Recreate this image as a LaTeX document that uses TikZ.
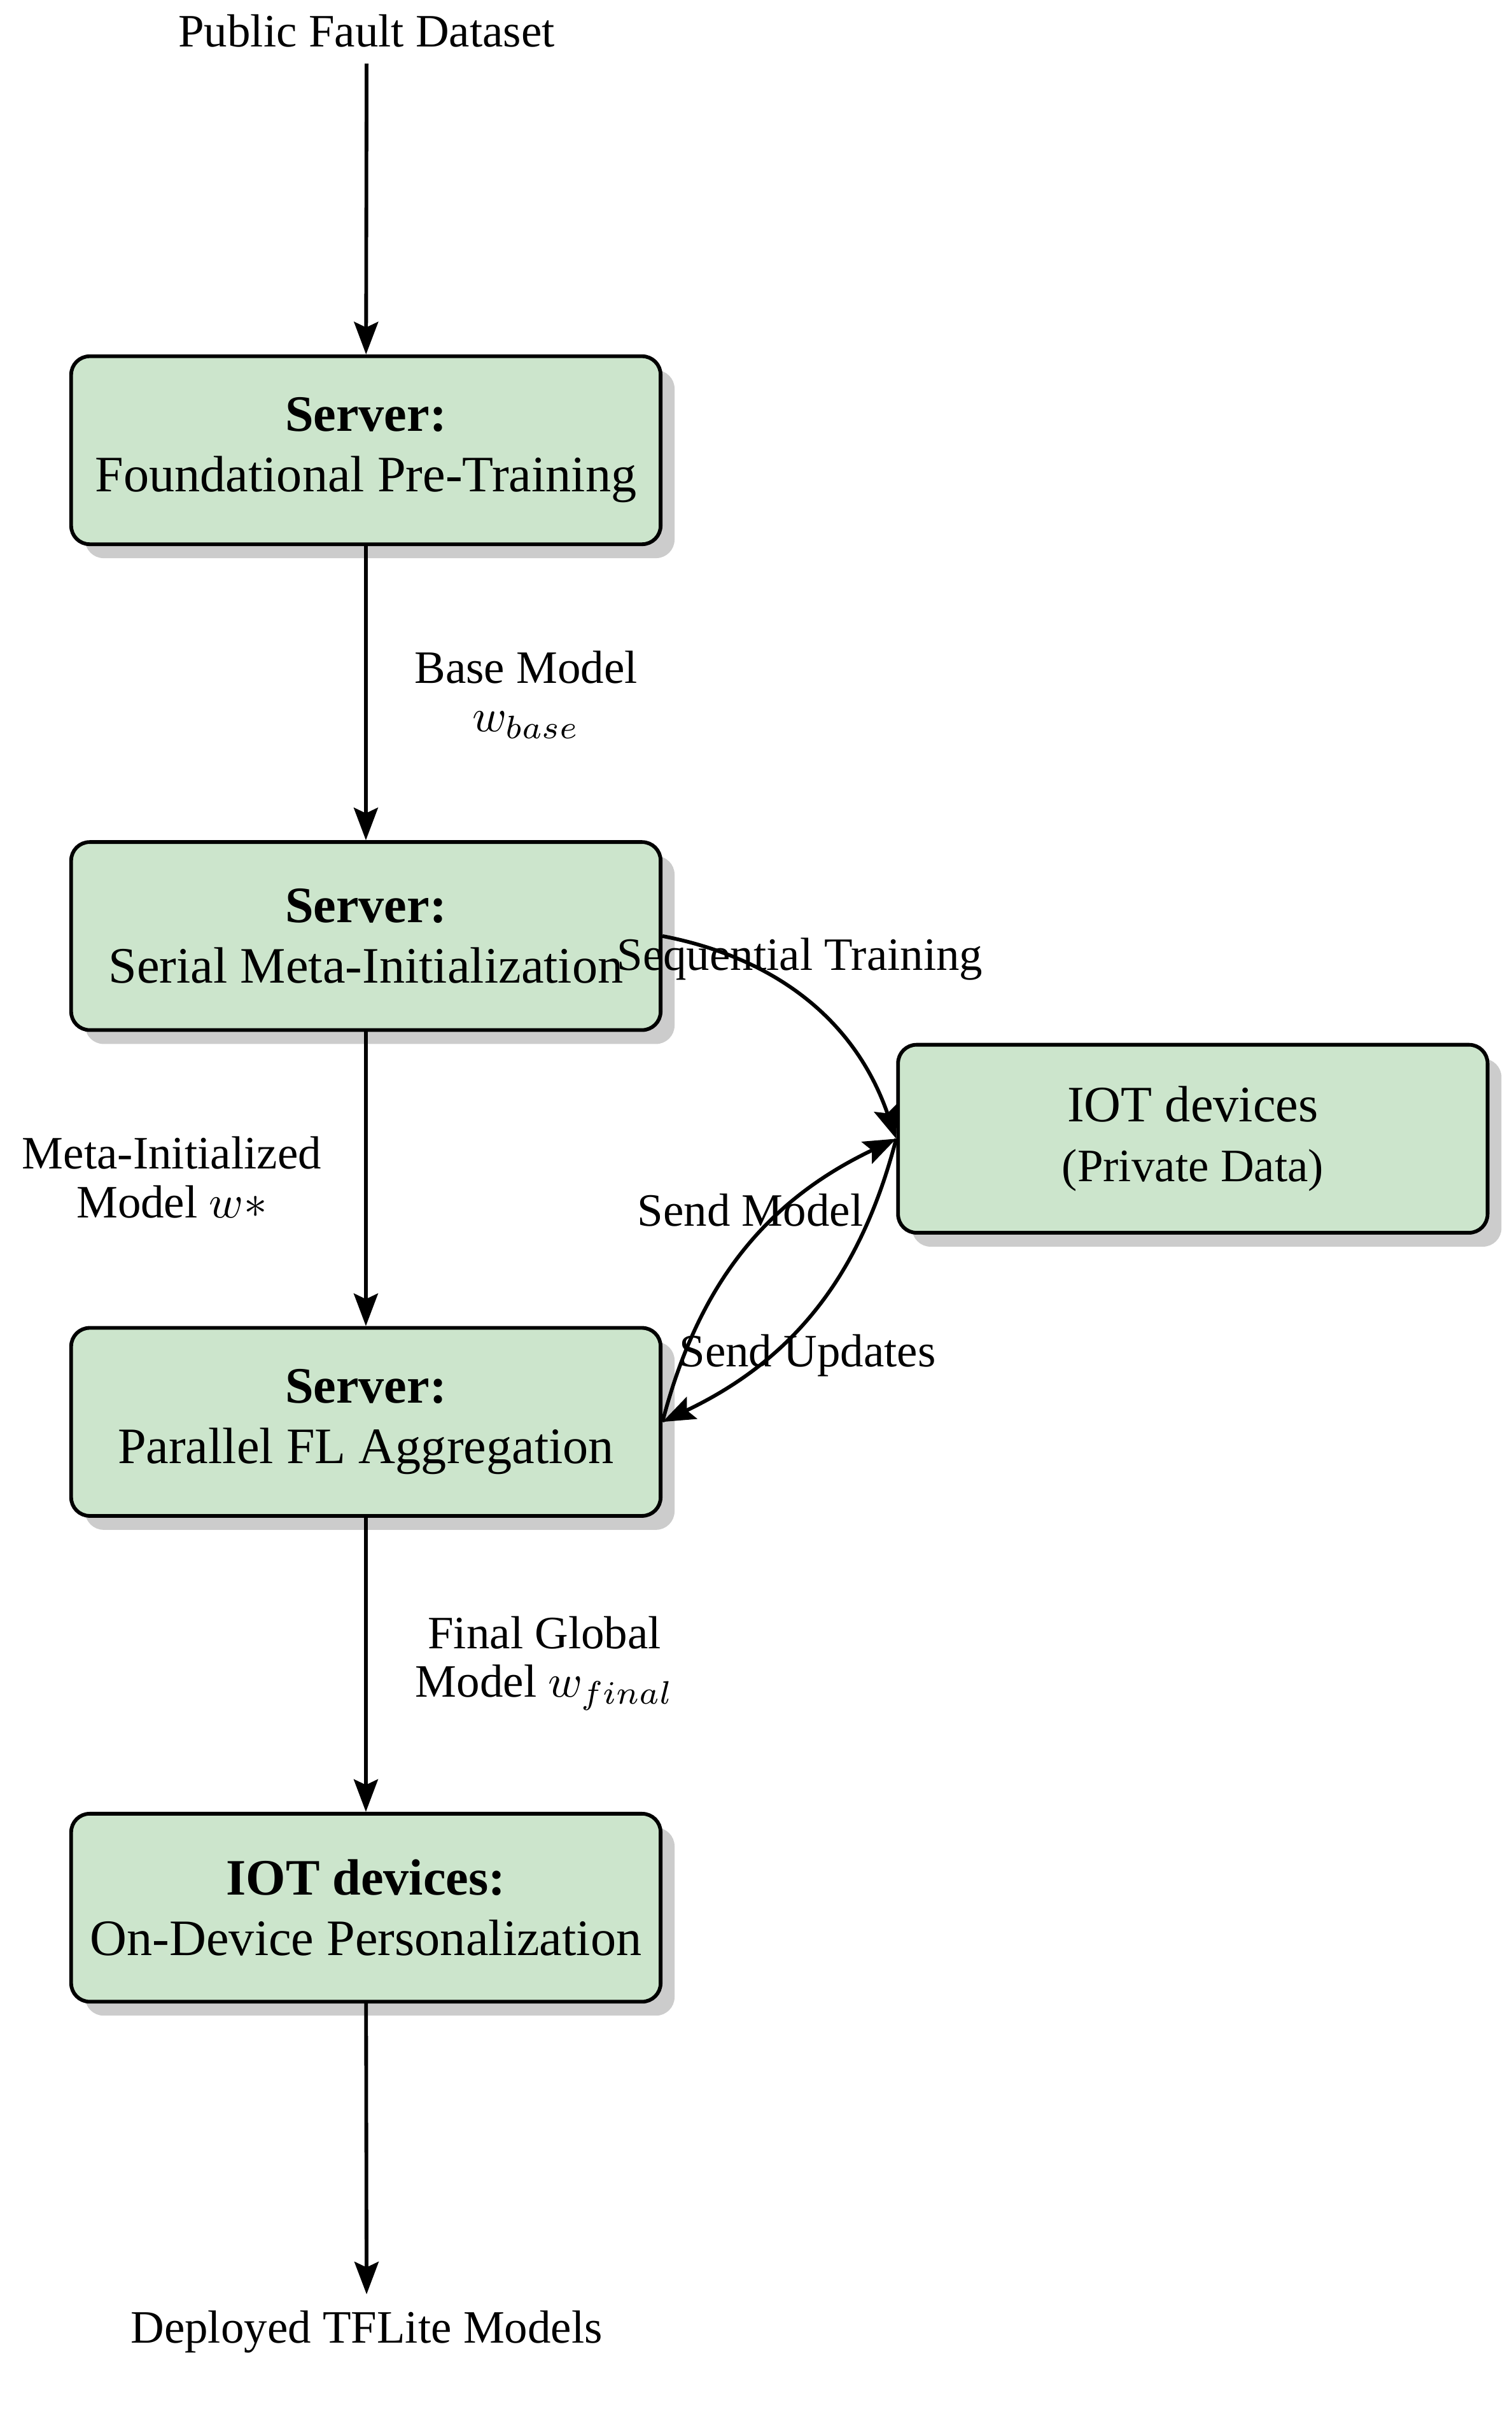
\documentclass[tikz,border=0pt]{standalone}
\usepackage{fontspec}
\setmainfont{Liberation Serif}
\usetikzlibrary{arrows.meta,shadows}
\definecolor{boxgreen}{RGB}{204,229,204}
\begin{document}
\begin{tikzpicture}[x=0.3333pt,y=-0.3333pt,
  box/.style={draw=black, line width=0.8pt, rounded corners=4pt, fill=boxgreen,
    minimum width=127pt, minimum height=40.5pt, align=center,
    font=\fontsize{11}{13}\selectfont,
    drop shadow={shadow xshift=3pt,shadow yshift=-3pt,fill=black!20,opacity=1}},
  lbl/.style={align=center, font=\fontsize{10}{10.5}\selectfont, inner sep=0pt},
  endtxt/.style={font=\fontsize{10}{12}\selectfont, inner sep=3.3pt},
  arr/.style={-{Stealth[length=7pt,width=5.2pt,inset=1.2pt]}, line width=0.8pt},
  ]
\useasboundingbox (0,0) rectangle (977,1568);

\node[endtxt] (pub) at (237,20) {Public Fault Dataset};
\node[box] (b1) at (236.5,291) {\textbf{Server:}\\Foundational Pre-Training};
\node[box] (b2) at (236.5,605) {\textbf{Server:}\\Serial Meta-Initialization};
\node[box] (b3) at (236.5,919) {\textbf{Server:}\\Parallel FL Aggregation};
\node[box] (b4) at (236.5,1233) {\textbf{IOT devices:}\\On-Device Personalization};
\node[box] (iot) at (771,736) {IOT devices\\{\fontsize{10}{12}\selectfont (Private Data)}};
\node[endtxt] (dep) at (237,1507) {Deployed TFLite Models};

\draw[arr] (pub) -- (b1);
\draw[arr] (b1) -- (b2);
\draw[arr] (b2) -- (b3);
\draw[arr] (b3) -- (b4);
\draw[arr] (b4) -- (dep);
\draw[arr] (b2.east) to[bend left=30] (iot.west);
\draw[arr] (b3.east) to[bend left=25] (iot.west);
\draw[arr] (iot.west) to[bend left=25] (b3.east);

\node[lbl] (lbase) at (340,449) {Base Model\\$w_{base}$};
\node[lbl] (lmeta) at (111,761) {Meta-Initialized\\Model $w*$};
\node[lbl] (lfinal) at (352,1075) {Final Global\\Model $w_{final}$};
\node[lbl] (lseq) at (517,620) {Sequential Training};
\node[lbl] (lsm) at (485,782) {Send Model};
\node[lbl] (lsu) at (522,876) {Send Updates};
\end{tikzpicture}
\end{document}
